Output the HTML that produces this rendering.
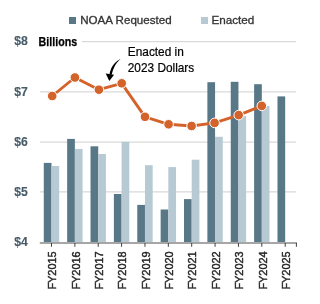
<!DOCTYPE html><html><head><meta charset="utf-8"><style>html,body{margin:0;padding:0;background:#fff;width:318px;height:304px;overflow:hidden}svg{display:block;will-change:transform}</style></head><body><svg width="318" height="304" viewBox="0 0 318 304">
<line x1="40" y1="41.6" x2="296" y2="41.6" stroke="#d9d9d9" stroke-width="1.4"/>
<line x1="40" y1="91.9" x2="296" y2="91.9" stroke="#d9d9d9" stroke-width="1.4"/>
<line x1="40" y1="142.1" x2="296" y2="142.1" stroke="#d9d9d9" stroke-width="1.4"/>
<line x1="40" y1="191.9" x2="296" y2="191.9" stroke="#d9d9d9" stroke-width="1.4"/>
<rect x="43.78" y="162.9" width="7.7" height="79.60" fill="#587888"/>
<rect x="51.48" y="166" width="7.7" height="76.50" fill="#b7c9d3"/>
<rect x="67.16" y="138.9" width="7.7" height="103.60" fill="#587888"/>
<rect x="74.86" y="148.9" width="7.7" height="93.60" fill="#b7c9d3"/>
<rect x="90.52" y="146.3" width="7.7" height="96.20" fill="#587888"/>
<rect x="98.22" y="154" width="7.7" height="88.50" fill="#b7c9d3"/>
<rect x="113.89" y="194" width="7.7" height="48.50" fill="#587888"/>
<rect x="121.59" y="141.8" width="7.7" height="100.70" fill="#b7c9d3"/>
<rect x="137.27" y="204.9" width="7.7" height="37.60" fill="#587888"/>
<rect x="144.97" y="165.2" width="7.7" height="77.30" fill="#b7c9d3"/>
<rect x="160.64" y="209.5" width="7.7" height="33.00" fill="#587888"/>
<rect x="168.34" y="167.1" width="7.7" height="75.40" fill="#b7c9d3"/>
<rect x="184.00" y="199.1" width="7.7" height="43.40" fill="#587888"/>
<rect x="191.70" y="159.7" width="7.7" height="82.80" fill="#b7c9d3"/>
<rect x="207.38" y="82.2" width="7.7" height="160.30" fill="#587888"/>
<rect x="215.07" y="136.8" width="7.7" height="105.70" fill="#b7c9d3"/>
<rect x="230.75" y="81.8" width="7.7" height="160.70" fill="#587888"/>
<rect x="238.44" y="116.1" width="7.7" height="126.40" fill="#b7c9d3"/>
<rect x="254.12" y="84.2" width="7.7" height="158.30" fill="#587888"/>
<rect x="261.81" y="105.9" width="7.7" height="136.60" fill="#b7c9d3"/>
<rect x="277.49" y="96.4" width="7.7" height="146.10" fill="#587888"/>
<line x1="39.8" y1="243" x2="297" y2="243" stroke="#a6a6a6" stroke-width="1.8"/>
<line x1="51.48" y1="243" x2="51.48" y2="246.8" stroke="#404040" stroke-width="1"/>
<line x1="74.86" y1="243" x2="74.86" y2="246.8" stroke="#404040" stroke-width="1"/>
<line x1="98.22" y1="243" x2="98.22" y2="246.8" stroke="#404040" stroke-width="1"/>
<line x1="121.59" y1="243" x2="121.59" y2="246.8" stroke="#404040" stroke-width="1"/>
<line x1="144.97" y1="243" x2="144.97" y2="246.8" stroke="#404040" stroke-width="1"/>
<line x1="168.34" y1="243" x2="168.34" y2="246.8" stroke="#404040" stroke-width="1"/>
<line x1="191.70" y1="243" x2="191.70" y2="246.8" stroke="#404040" stroke-width="1"/>
<line x1="215.07" y1="243" x2="215.07" y2="246.8" stroke="#404040" stroke-width="1"/>
<line x1="238.44" y1="243" x2="238.44" y2="246.8" stroke="#404040" stroke-width="1"/>
<line x1="261.81" y1="243" x2="261.81" y2="246.8" stroke="#404040" stroke-width="1"/>
<line x1="285.19" y1="243" x2="285.19" y2="246.8" stroke="#404040" stroke-width="1"/>
<line x1="296.4" y1="243" x2="296.4" y2="246.8" stroke="#404040" stroke-width="1"/>
<rect x="36" y="34" width="46" height="14" fill="#fff"/>
<polyline points="52.2,96 74.9,77.5 98.9,89.7 121.7,83.3 145,116.8 168.6,124.3 191.6,126 214.6,122.9 238.7,115.1 261.8,105.9" fill="none" stroke="#d4622b" stroke-width="2.9" stroke-linejoin="round"/>
<circle cx="52.2" cy="96" r="4.8" fill="#d4622b" stroke="#fff" stroke-width="1"/>
<circle cx="74.9" cy="77.5" r="4.8" fill="#d4622b" stroke="#fff" stroke-width="1"/>
<circle cx="98.9" cy="89.7" r="4.8" fill="#d4622b" stroke="#fff" stroke-width="1"/>
<circle cx="121.7" cy="83.3" r="4.8" fill="#d4622b" stroke="#fff" stroke-width="1"/>
<circle cx="145" cy="116.8" r="4.8" fill="#d4622b" stroke="#fff" stroke-width="1"/>
<circle cx="168.6" cy="124.3" r="4.8" fill="#d4622b" stroke="#fff" stroke-width="1"/>
<circle cx="191.6" cy="126" r="4.8" fill="#d4622b" stroke="#fff" stroke-width="1"/>
<circle cx="214.6" cy="122.9" r="4.8" fill="#d4622b" stroke="#fff" stroke-width="1"/>
<circle cx="238.7" cy="115.1" r="4.8" fill="#d4622b" stroke="#fff" stroke-width="1"/>
<circle cx="261.8" cy="105.9" r="4.8" fill="#d4622b" stroke="#fff" stroke-width="1"/>
<text x="14.2" y="45.4" font-family="Liberation Sans" font-weight="bold" font-size="11.9" fill="#465a67" stroke="#465a67" stroke-width="0.12" textLength="13.6" lengthAdjust="spacingAndGlyphs">$8</text>
<text x="14.2" y="95.6" font-family="Liberation Sans" font-weight="bold" font-size="11.9" fill="#465a67" stroke="#465a67" stroke-width="0.12" textLength="13.6" lengthAdjust="spacingAndGlyphs">$7</text>
<text x="14.2" y="145.8" font-family="Liberation Sans" font-weight="bold" font-size="11.9" fill="#465a67" stroke="#465a67" stroke-width="0.12" textLength="13.6" lengthAdjust="spacingAndGlyphs">$6</text>
<text x="14.2" y="196.0" font-family="Liberation Sans" font-weight="bold" font-size="11.9" fill="#465a67" stroke="#465a67" stroke-width="0.12" textLength="13.6" lengthAdjust="spacingAndGlyphs">$5</text>
<text x="14.2" y="246.2" font-family="Liberation Sans" font-weight="bold" font-size="11.9" fill="#465a67" stroke="#465a67" stroke-width="0.12" textLength="13.6" lengthAdjust="spacingAndGlyphs">$4</text>
<text x="38.6" y="45.6" font-family="Liberation Sans" font-weight="bold" font-size="12.2" fill="#000" stroke="#000" stroke-width="0.25" textLength="38.5" lengthAdjust="spacingAndGlyphs">Billions</text>
<rect x="69" y="17" width="7" height="7" fill="#587888"/>
<text x="80.2" y="23.8" font-family="Liberation Sans" font-size="11.3" fill="#333333" stroke="#333333" stroke-width="0.3" textLength="91.5" lengthAdjust="spacingAndGlyphs">NOAA Requested</text>
<rect x="201" y="17" width="7" height="7" fill="#b7c9d3"/>
<text x="211.4" y="23.8" font-family="Liberation Sans" font-size="11.3" fill="#333333" stroke="#333333" stroke-width="0.3" textLength="43" lengthAdjust="spacingAndGlyphs">Enacted</text>
<text x="127.8" y="55.6" font-family="Liberation Sans" font-size="12.4" fill="#000" stroke="#000" stroke-width="0.22" textLength="56" lengthAdjust="spacingAndGlyphs">Enacted in</text>
<text x="127.8" y="71.6" font-family="Liberation Sans" font-size="12.4" fill="#000" stroke="#000" stroke-width="0.22" textLength="66.4" lengthAdjust="spacingAndGlyphs">2023 Dollars</text>
<path d="M120.11,59.08 L119.44,59.48 L118.78,59.89 L118.14,60.33 L117.52,60.79 L116.91,61.26 L116.32,61.76 L115.74,62.28 L115.19,62.82 L114.65,63.37 L114.13,63.95 L113.63,64.55 L113.15,65.17 L112.68,65.81 L112.24,66.47 L111.81,67.15 L111.46,67.88 L111.14,68.62 L110.84,69.39 L110.56,70.16 L110.30,70.96 L110.06,71.76 L109.84,72.59 L109.64,73.43 L109.47,74.29 L111.73,74.71 L111.89,73.92 L112.07,73.14 L112.27,72.38 L112.49,71.64 L112.73,70.91 L112.99,70.20 L113.26,69.51 L113.56,68.83 L113.87,68.17 L114.14,67.50 L114.44,66.83 L114.75,66.18 L115.09,65.54 L115.45,64.91 L115.83,64.30 L116.23,63.70 L116.66,63.10 L117.11,62.53 L117.58,61.96 L118.07,61.41 L118.59,60.87 L119.13,60.34 L119.70,59.82 L120.29,59.32 Z" fill="#000"/>
<path d="M105.7,73.6 L114.1,74.8 L109.3,81 Z" fill="#000"/>
<text transform="translate(56.19,251.4) rotate(-90)" x="0" y="0" text-anchor="end" font-family="Liberation Sans" font-size="11.6" fill="#262626" stroke="#262626" stroke-width="0.45" textLength="38.2" lengthAdjust="spacingAndGlyphs">FY2015</text>
<text transform="translate(79.56,251.4) rotate(-90)" x="0" y="0" text-anchor="end" font-family="Liberation Sans" font-size="11.6" fill="#262626" stroke="#262626" stroke-width="0.45" textLength="38.2" lengthAdjust="spacingAndGlyphs">FY2016</text>
<text transform="translate(102.92,251.4) rotate(-90)" x="0" y="0" text-anchor="end" font-family="Liberation Sans" font-size="11.6" fill="#262626" stroke="#262626" stroke-width="0.45" textLength="38.2" lengthAdjust="spacingAndGlyphs">FY2017</text>
<text transform="translate(126.30,251.4) rotate(-90)" x="0" y="0" text-anchor="end" font-family="Liberation Sans" font-size="11.6" fill="#262626" stroke="#262626" stroke-width="0.45" textLength="38.2" lengthAdjust="spacingAndGlyphs">FY2018</text>
<text transform="translate(149.66,251.4) rotate(-90)" x="0" y="0" text-anchor="end" font-family="Liberation Sans" font-size="11.6" fill="#262626" stroke="#262626" stroke-width="0.45" textLength="38.2" lengthAdjust="spacingAndGlyphs">FY2019</text>
<text transform="translate(173.03,251.4) rotate(-90)" x="0" y="0" text-anchor="end" font-family="Liberation Sans" font-size="11.6" fill="#262626" stroke="#262626" stroke-width="0.45" textLength="38.2" lengthAdjust="spacingAndGlyphs">FY2020</text>
<text transform="translate(196.40,251.4) rotate(-90)" x="0" y="0" text-anchor="end" font-family="Liberation Sans" font-size="11.6" fill="#262626" stroke="#262626" stroke-width="0.45" textLength="38.2" lengthAdjust="spacingAndGlyphs">FY2021</text>
<text transform="translate(219.77,251.4) rotate(-90)" x="0" y="0" text-anchor="end" font-family="Liberation Sans" font-size="11.6" fill="#262626" stroke="#262626" stroke-width="0.45" textLength="38.2" lengthAdjust="spacingAndGlyphs">FY2022</text>
<text transform="translate(243.14,251.4) rotate(-90)" x="0" y="0" text-anchor="end" font-family="Liberation Sans" font-size="11.6" fill="#262626" stroke="#262626" stroke-width="0.45" textLength="38.2" lengthAdjust="spacingAndGlyphs">FY2023</text>
<text transform="translate(266.51,251.4) rotate(-90)" x="0" y="0" text-anchor="end" font-family="Liberation Sans" font-size="11.6" fill="#262626" stroke="#262626" stroke-width="0.45" textLength="38.2" lengthAdjust="spacingAndGlyphs">FY2024</text>
<text transform="translate(289.88,251.4) rotate(-90)" x="0" y="0" text-anchor="end" font-family="Liberation Sans" font-size="11.6" fill="#262626" stroke="#262626" stroke-width="0.45" textLength="38.2" lengthAdjust="spacingAndGlyphs">FY2025</text>
</svg></body></html>
